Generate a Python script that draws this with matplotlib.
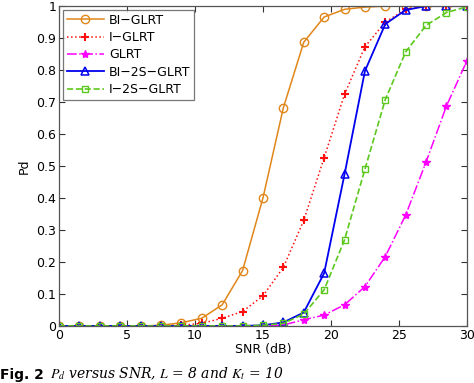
import numpy as np
import matplotlib
matplotlib.use('Agg')
import matplotlib.pyplot as plt

plt.rcParams['mathtext.fontset'] = 'stix'

snr = [0, 1.5, 3, 4.5, 6, 7.5, 9, 10.5, 12, 13.5, 15, 16.5, 18, 19.5, 21, 22.5, 24, 25.5, 27, 28.5, 30]

bi_glrt = [0, 0, 0, 0, 0, 0.002, 0.01, 0.024, 0.066, 0.173, 0.40, 0.682, 0.887, 0.966, 0.99, 0.997, 1, 1, 1, 1, 1]
i_glrt = [0, 0, 0, 0, 0, 0, 0.002, 0.008, 0.024, 0.045, 0.094, 0.183, 0.33, 0.526, 0.724, 0.873, 0.95, 0.99, 1, 1, 1]
glrt = [0, 0, 0, 0, 0, 0, 0, 0, 0, 0, 0, 0.003, 0.019, 0.034, 0.066, 0.123, 0.217, 0.347, 0.513, 0.688, 0.829]
bi_2s = [0, 0, 0, 0, 0, 0, 0, 0, 0, 0, 0.002, 0.011, 0.042, 0.165, 0.474, 0.797, 0.944, 0.988, 1, 1, 1]
i_2s = [0, 0, 0, 0, 0, 0, 0, 0, 0, 0, 0.002, 0.008, 0.037, 0.113, 0.269, 0.49, 0.708, 0.857, 0.94, 0.98, 0.998]

labels = ['BI\u2212GLRT', 'I\u2212GLRT', 'GLRT', 'BI\u22122S\u2212GLRT', 'I\u22122S\u2212GLRT']

fig = plt.figure(figsize=(4.74, 3.83), dpi=100)
ax = fig.add_axes([0.1245, 0.149, 0.8605, 0.835])

ax.plot(snr, bi_glrt, '-o', color='#E0861A', lw=1.1, ms=6, mfc='none', mew=1.0, label=labels[0])
ax.plot(snr, i_glrt, ':+', color='#FF1010', lw=1.1, ms=6, mew=1.5, label=labels[1])
ax.plot(snr, glrt, '-.*', color='#FF00FF', lw=1.1, ms=6, label=labels[2])
ax.plot(snr, bi_2s, '-^', color='#0000EE', lw=1.3, ms=6, mfc='none', mew=1.1, label=labels[3])
ax.plot(snr, i_2s, '--s', color='#5CC81E', lw=1.2, ms=5, mfc='none', mew=1.0, label=labels[4])

ax.set_xlim(0, 30)
ax.set_ylim(0, 1)
ax.set_xticks([0, 5, 10, 15, 20, 25, 30])
ax.set_yticks(np.arange(0, 1.01, 0.1))
ax.set_yticklabels(['0', '0.1', '0.2', '0.3', '0.4', '0.5', '0.6', '0.7', '0.8', '0.9', '1'])
ax.tick_params(direction='in', top=True, right=True, labelsize=9, length=4, pad=2, colors='#333333', labelcolor='black')
for s in ax.spines.values():
    s.set_color('#555555')
    s.set_linewidth(0.9)
ax.set_xlabel('SNR (dB)', fontsize=9, labelpad=1)
ax.set_ylabel('Pd', fontsize=9, labelpad=4)

leg = ax.legend(loc='upper left', fontsize=9, frameon=True, fancybox=False, borderaxespad=0.3,
                handlelength=3.0, labelspacing=0.35, borderpad=0.3, handletextpad=0.4)
leg.get_frame().set_edgecolor('#555555')
leg.get_frame().set_linewidth(0.9)

# caption below the chart
fig.text(0.0, 0.003, 'Fig. 2', fontsize=10, fontweight='bold', va='bottom', ha='left')
fig.text(0.105, 0.003, '$P_d$ versus SNR, $L$ = 8 and $K_t$ = 10', fontsize=10, family='serif',
         style='italic', va='bottom', ha='left')

fig.savefig('out.png', dpi=100)
